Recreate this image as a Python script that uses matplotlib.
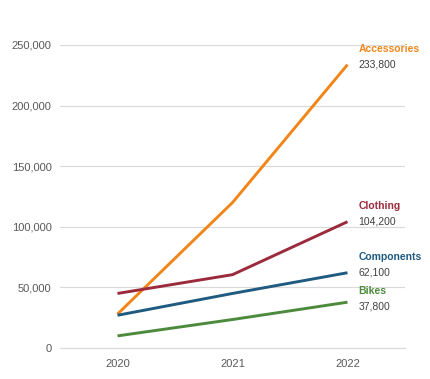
import matplotlib.pyplot as plt

plt.rcParams['font.family'] = ['Liberation Sans', 'DejaVu Sans']

years = ['2020', '2021', '2022']
accessories = [28000, 120000, 233800]
clothing = [45000, 60500, 104200]
components = [27000, 45000, 62100]
bikes = [10000, 23500, 37800]

series = [
    ('Accessories', accessories, '#F0861A'),
    ('Clothing', clothing, '#9B2A3C'),
    ('Components', components, '#1F5A80'),
    ('Bikes', bikes, '#4C8A3C'),
]
# label nudges (points) for name/value pairs at the right edge
nudges = {'Accessories': 0, 'Clothing': 0, 'Components': 0, 'Bikes': 3}

fig = plt.figure(figsize=(4.3, 3.79), dpi=100)
ax = fig.add_axes([60 / 430, 31 / 379, 345 / 430, 303 / 379])

x = range(len(years))
for name, vals, color in series:
    ax.plot(x, vals, color=color, lw=2.1, solid_capstyle='butt')
    dy = nudges[name]
    ax.annotate(name, (2, vals[-1]), xytext=(8, 11 - dy), textcoords='offset points',
                color=color, fontsize=7.5, fontweight='bold', va='center', ha='left',
                annotation_clip=False)
    ax.annotate(f'{vals[-1]:,}', (2, vals[-1]), xytext=(8, 0 - dy), textcoords='offset points',
                color='#404040', fontsize=7.5, va='center', ha='left', annotation_clip=False)

ax.set_xlim(-0.5, 2.5)
ax.set_ylim(0, 250000)
ax.set_yticks(range(0, 250001, 50000))
ax.set_yticklabels([f'{v:,}' for v in range(0, 250001, 50000)])
ax.set_xticks(list(x))
ax.set_xticklabels(years)
ax.yaxis.grid(True, color='#D9D9D9', lw=0.8)
ax.set_axisbelow(True)
for s in ['top', 'right', 'left']:
    ax.spines[s].set_visible(False)
ax.spines['bottom'].set_color('#D9D9D9')
ax.tick_params(axis='both', length=0, labelsize=8, colors='#595959')
ax.tick_params(axis='x', pad=8)
ax.tick_params(axis='y', pad=6)

fig.savefig('out.png', dpi=100)
